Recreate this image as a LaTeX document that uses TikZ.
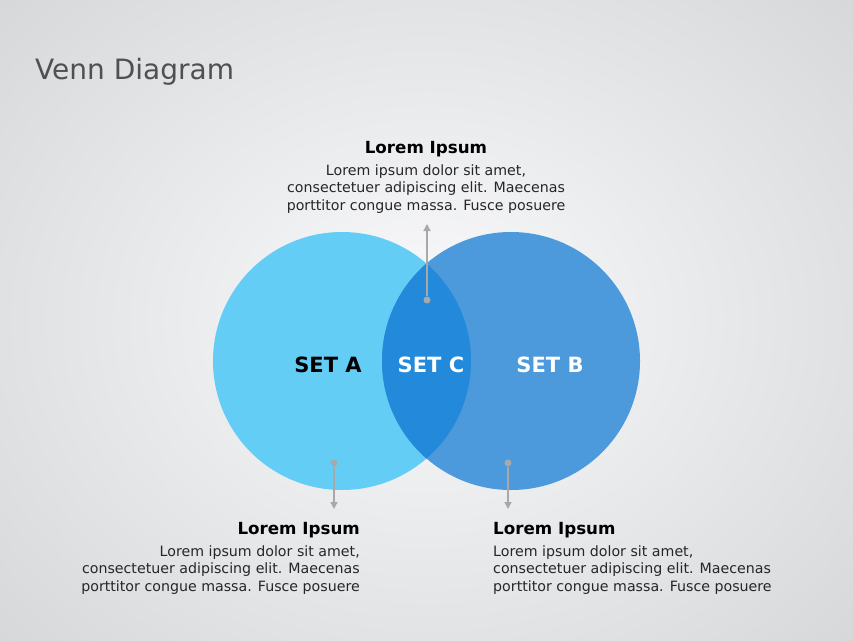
\documentclass[tikz,border=0pt]{standalone}
\usepackage{fontspec}
\setmainfont{DejaVu Sans}
\usetikzlibrary{arrows.meta}
\definecolor{cA}{HTML}{64CDF6}
\definecolor{cB}{HTML}{4C9ADB}
\definecolor{cC}{HTML}{2389DA}
\definecolor{conn}{HTML}{A8A8A8}
\definecolor{titlec}{HTML}{505050}
\definecolor{bodyc}{HTML}{262626}
\definecolor{bgin}{HTML}{FAFAFC}
\definecolor{bgout}{HTML}{D6D8DA}
\tikzset{
  x=1pt,y=-1pt,
  setcirc/.style={circle,minimum size=258pt,inner sep=0pt},
  setlbl/.style={font=\fontsize{21}{24}\selectfont\bfseries},
  head/.style={font=\fontsize{16.7}{19}\selectfont\bfseries,text=black,inner sep=0pt},
  body/.style={font=\fontsize{14.2}{17.3}\selectfont,text=bodyc,inner sep=0pt},
  dotc/.style={circle,fill=conn,minimum size=7pt,inner sep=0pt},
  conline/.style={draw=conn,line width=1.3pt,-{Triangle[length=7pt,width=7pt]}}
}
\begin{document}
\begin{tikzpicture}
\useasboundingbox (0,0) rectangle (853,640);
\shade[inner color=bgin,outer color=bgout] (-150,-150) rectangle (1003,790);
\node[anchor=west,text=titlec,font=\fontsize{28}{32}\selectfont,inner sep=0pt] (title) at (35,72) {Venn Diagram};
\node[setcirc,fill=cA] (A) at (342,361) {};
\node[setcirc,fill=cB] (B) at (511,361) {};
\begin{scope}
  \clip (342,361) circle (129);
  \fill[cC] (511,361) circle (129);
\end{scope}
\node[setlbl,text=black] (la) at (328,365) {SET A};
\node[setlbl,text=white] (lc) at (431,365) {SET C};
\node[setlbl,text=white] (lb) at (550,365) {SET B};
% top text
\node[head] (h1) at (426,149) {Lorem Ipsum};
\node[body,align=center,anchor=north] (b1) at (426,164.5) {Lorem ipsum dolor sit amet,\\consectetuer adipiscing elit. Maecenas\\porttitor congue massa. Fusce posuere};
% bottom left
\node[head,anchor=east] (h2) at (360,530) {Lorem Ipsum};
\node[body,align=right,anchor=north east] (b2) at (360,545.5) {Lorem ipsum dolor sit amet,\\consectetuer adipiscing elit. Maecenas\\porttitor congue massa. Fusce posuere};
% bottom right
\node[head,anchor=west] (h3) at (493,530) {Lorem Ipsum};
\node[body,align=left,anchor=north west] (b3) at (493,545.5) {Lorem ipsum dolor sit amet,\\consectetuer adipiscing elit. Maecenas\\porttitor congue massa. Fusce posuere};
% connectors
\node[dotc] (d1) at (427,300) {};
\coordinate (t1) at (427,224);
\draw[conline] (d1) -- (t1);
\node[dotc] (d2) at (334,463) {};
\coordinate (t2) at (334,509);
\draw[conline] (d2) -- (t2);
\node[dotc] (d3) at (508,463) {};
\coordinate (t3) at (508,509);
\draw[conline] (d3) -- (t3);
\end{tikzpicture}
\end{document}
